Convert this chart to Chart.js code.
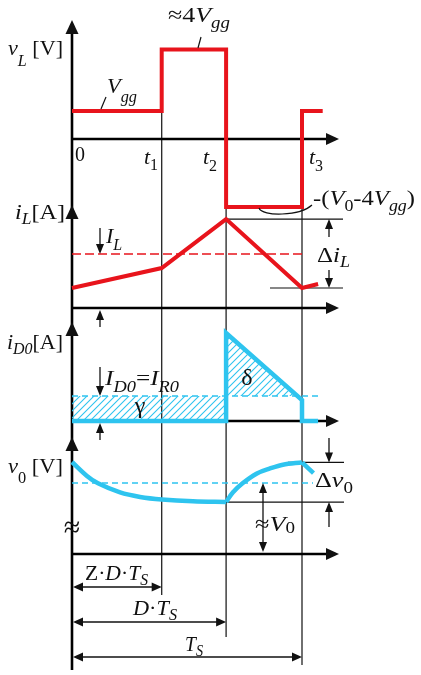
<!DOCTYPE html>
<html><head><meta charset="utf-8">
<script src="https://cdn.jsdelivr.net/npm/chart.js@4.4.1/dist/chart.umd.min.js"></script>
<style>html,body{margin:0;padding:0;background:#fff;overflow:hidden}#wrap{position:relative;width:421px;height:675px}</style>
</head><body><div id="wrap"><canvas id="c"></canvas></div>
<script>
// ---- data (time in fractions of Ts) ----
const switchTimes = [0, 0.39, 0.67, 1.0];           // 0, t1, t2, t3
const tickLabels  = ['0', 't1', 't2', 't3'];
// inductor voltage vL, in units of Vgg
const vLTime  = [0, 0.39, 0.39, 0.67, 0.67, 1.0, 1.0, 1.09];
const vLValue = [1, 1, 3.2, 3.2, -2.43, -2.43, 1, 1];
// inductor current iL
const iLTime  = [0, 0.39, 0.67, 1.0, 1.07];
const iLValue = [1.11, 2.22, 4.94, 1.11, 1.33];
const iLMeanTime = [0, 1.013];
const iLMean     = [3.0, 3.0];
// diode current iD0
const iDTime  = [0, 0.67, 0.67, 1.0, 1.0, 1.07];
const iDValue = [0, 0, 3.52, 0.84, 0, 0];
const iRMeanTime = [0, 1.078];
const iRMean     = [1, 1];
// output voltage v0 (units of V0)
const v0DecayTime  = [0, 0.065, 0.113, 0.209, 0.296, 0.391, 0.526, 0.67];
const v0DecayValue = [1.296, 1.10, 0.995, 0.867, 0.804, 0.768, 0.742, 0.732];
const v0RiseTime   = [0.67, 0.70, 0.743, 0.804, 0.861, 0.917, 1.0];
const v0RiseValue  = [0.732, 0.87, 1.0, 1.135, 1.205, 1.258, 1.29];
const v0TailTime   = [1.0, 1.05];
const v0TailValue  = [1.29, 1.14];
const v0MeanTime   = [0, 1.048];
const v0Mean       = [1, 1];

// ---- styling / layout ----
const RED = '#e8141c', CYAN = '#2ec4ef', INK = '#111';
const W = 421, H = 675;
const SERIF = '"Liberation Serif","Times New Roman",serif';
const xr = (origin, ppu) => ({min: -origin/ppu, max: (W-origin)/ppu});
const yr = (zero, ppu) => ({min: -(H-zero)/ppu, max: zero/ppu});
const pts = (ts, vs) => ts.map((t,i)=>({x:t, y:vs[i]}));

const hatch = (()=>{
  const c = document.createElement('canvas'); c.width = 7; c.height = 7;
  const g = c.getContext('2d'); g.strokeStyle = CYAN; g.lineWidth = 1.1;
  g.beginPath(); g.moveTo(0,7); g.lineTo(7,0); g.moveTo(-1,1); g.lineTo(1,-1); g.moveTo(6,8); g.lineTo(8,6); g.stroke();
  return g.createPattern(c, 'repeat');
})();

const line = (ctx,x1,y1,x2,y2,w,col)=>{ctx.save();ctx.strokeStyle=col||INK;ctx.lineWidth=w;ctx.beginPath();ctx.moveTo(x1,y1);ctx.lineTo(x2,y2);ctx.stroke();ctx.restore();};
const head = (ctx,x,y,dx,dy,len,hw)=>{ctx.save();ctx.fillStyle=INK;ctx.beginPath();ctx.moveTo(x,y);
  ctx.lineTo(x-dx*len-dy*hw, y-dy*len+dx*hw); ctx.lineTo(x-dx*len+dy*hw, y-dy*len-dx*hw); ctx.closePath(); ctx.fill(); ctx.restore();};
const varrow = (ctx,x,y0,tip)=>{const d = tip>y0?1:-1; line(ctx,x,y0,x,tip-d*8,1.3); head(ctx,x,tip,0,d,10,4);};
const hdim = (ctx,x0,x1,y)=>{line(ctx,x0+6,y,x1-6,y,1.3); head(ctx,x0,y,-1,0,10,4.5); head(ctx,x1,y,1,0,10,4.5);};

function rich(ctx, it){
  const size = it.size||22, sub = it.sub||16, so = it.so==null?6:it.so;
  const font = fl => (fl.includes('i')?'italic ':'') + (fl.includes('s')?sub:size) + 'px ' + SERIF;
  let nat = 0;
  for (const [t,fl] of it.s){ ctx.font = font(fl); nat += ctx.measureText(t).width; }
  ctx.save(); ctx.fillStyle = INK; ctx.textBaseline = 'alphabetic'; ctx.textAlign = 'left';
  let x0 = it.x; if (it.c) x0 = it.x - nat/2;
  ctx.translate(x0, it.y);
  if (it.w) ctx.scale(it.w/nat, 1);
  let x = 0;
  for (const [t,fl] of it.s){ ctx.font = font(fl); ctx.fillText(t, x, fl.includes('s')?so:0); x += ctx.measureText(t).width; }
  ctx.restore();
}

const texts = [
  {x:8, y:55, w:55, so:11, s:[['v','i'],['L','is'],[' [V]','']]},
  {x:168, y:22, w:62, so:6, s:[['≈4',''],['V','i'],['gg','is']]},
  {x:107, y:93, w:30, so:9, s:[['V','i'],['gg','is']]},
  {x:75, y:161, size:20, s:[[tickLabels[0],'']]},
  {x:144, y:164, so:6, s:[['t','i'],[tickLabels[1].slice(1),'s']]},
  {x:203, y:164, so:7, s:[['t','i'],[tickLabels[2].slice(1),'s']]},
  {x:309, y:164, so:7, s:[['t','i'],[tickLabels[3].slice(1),'s']]},
  {x:313, y:205, w:102, so:6, s:[['-(',''],['V','i'],['0','s'],['-4',''],['V','i'],['gg','is'],[')','']]},
  {x:15, y:219, w:50, so:5, s:[['i','i'],['L','is'],['[A]','']]},
  {x:106, y:243, so:7, s:[['I','i'],['L','is']]},
  {x:317, y:262, w:33, so:5, s:[['Δ',''],['i','i'],['L','is']]},
  {x:7, y:349, w:56, so:5, s:[['i','i'],['D0','is'],['[A]','']]},
  {x:105, y:385, w:74, so:7, s:[['I','i'],['D0','is'],['=',''],['I','i'],['R0','is']]},
  {x:140, y:413, c:true, size:24, s:[['γ','']]},
  {x:247, y:385, c:true, size:24, s:[['δ','']]},
  {x:8, y:473, w:55, so:10, s:[['v','i'],['0','s'],[' [V]','']]},
  {x:315, y:487, w:38, so:6, s:[['Δ',''],['v','i'],['0','s']]},
  {x:255, y:531, w:40, so:2, s:[['≈',''],['V','i'],['0','s']]},
  {x:85, y:580, w:63, so:5, s:[['Z·',''],['D','i'],['·',''],['T','i'],['S','is']]},
  {x:133, y:615, w:44, so:5, s:[['D','i'],['·',''],['T','i'],['S','is']]},
  {x:185, y:651, w:18, so:5, s:[['T','i'],['S','is']]},
];

const overlay = {
  id: 'overlay',
  beforeDatasetsDraw(chart){
    const ctx = chart.ctx, sx = chart.scales.x;
    const X = v => sx.getPixelForValue(v);
    const Y = (id,v) => chart.scales[id].getPixelForValue(v);
    const x0 = X(0), x1 = X(switchTimes[1]), x2 = X(switchTimes[2]), x3 = X(switchTimes[3]);
    // guide lines
    line(ctx, x1, Y('yVL',1), x1, 595, 1.3, '#222');
    line(ctx, x2, 108, x2, 637, 1.3, '#222');
    line(ctx, x3, 128, x3, 665, 1.3, '#222');
    // reference lines
    line(ctx, x2, Y('yIL', iLValue[2]), 343, Y('yIL', iLValue[2]), 1.2);
    line(ctx, 270, Y('yIL', iLValue[3]), 343, Y('yIL', iLValue[3]), 1.2);
    line(ctx, 288, Y('yV0', v0RiseValue[6]), 344, Y('yV0', v0RiseValue[6]), 1.2);
    line(ctx, x2, Y('yV0', v0DecayValue[7]), 344, Y('yV0', v0DecayValue[7]), 1.2);
    // vertical axis
    line(ctx, x0, 24, x0, 670, 2.6, '#000');
    for (const tip of [20, 205, 322, 437]) head(ctx, x0, tip, 0, -1, 14, 6.5);
    // time axes
    for (const id of ['yVL','yIL','yID','yV0']){
      const y = Y(id, 0);
      line(ctx, x0, y, 330, y, 2.6, '#000');
      head(ctx, 339, y, 1, 0, 13, 6);
    }
    // dimension arrows
    hdim(ctx, x0+1, x1, 587);
    hdim(ctx, x0+1, x2, 622);
    hdim(ctx, x0+1, x3, 657);
  },
  afterDatasetsDraw(chart){
    const ctx = chart.ctx;
    const Y = (id,v) => chart.scales[id].getPixelForValue(v);
    // leaders
    line(ctx, 106, 97, 101, 109, 1.2);
    line(ctx, 201, 37, 198, 48, 1.2);
    ctx.save(); ctx.strokeStyle = INK; ctx.lineWidth = 1.2; ctx.beginPath();
    ctx.moveTo(259, 208); ctx.bezierCurveTo(262, 217, 300, 216, 312, 205); ctx.stroke(); ctx.restore();
    // I_L arrows
    varrow(ctx, 100, 228, Y('yIL', iLMean[0]));
    varrow(ctx, 100, 327, Y('yIL', 0)+2);
    // delta iL
    varrow(ctx, 329, 237, Y('yIL', iLValue[2]));
    varrow(ctx, 329, 270, Y('yIL', iLValue[3]));
    // I_D0 arrows
    varrow(ctx, 100, 367, Y('yID', iRMean[0]));
    varrow(ctx, 100, 440, Y('yID', 0)+2);
    // delta v0
    varrow(ctx, 329, 438, Y('yV0', v0RiseValue[6]));
    varrow(ctx, 329, 527, Y('yV0', v0DecayValue[7]));
    // ~V0 double arrow
    const ym = Y('yV0', v0Mean[0]), ya = Y('yV0', 0);
    line(ctx, 263, ym+8, 263, ya-8, 1.3); head(ctx, 263, ym, 0, -1, 10, 4); head(ctx, 263, ya-2, 0, 1, 10, 4);
    // broken-axis mark
    rich(ctx, {x:72, y:537, c:true, size:30, s:[['≈','']]});
    for (const t of texts) rich(ctx, t);
  }
};

const smooth = {cubicInterpolationMode:'default', tension:0.35};
const datasets = [
  {data: pts(vLTime, vLValue), yAxisID:'yVL', borderColor:RED, borderWidth:4, order:1},
  {data: pts(iLMeanTime, iLMean), yAxisID:'yIL', borderColor:RED, borderWidth:1.3, borderDash:[9,4], order:3},
  {data: pts(iLTime, iLValue), yAxisID:'yIL', borderColor:RED, borderWidth:4, order:1},
  {data: pts([switchTimes[0], switchTimes[2]], [iRMean[0], iRMean[0]]), yAxisID:'yID', borderColor:'rgba(0,0,0,0)', borderWidth:1, fill:{target:{value:0}}, backgroundColor:hatch, order:5},
  {data: pts(iDTime.slice(2,4), iDValue.slice(2,4)), yAxisID:'yID', borderColor:'rgba(0,0,0,0)', borderWidth:1, fill:{target:{value:iRMean[0]}, above:hatch, below:'rgba(0,0,0,0)'}, order:5},
  {data: pts(iRMeanTime, iRMean), yAxisID:'yID', borderColor:CYAN, borderWidth:1.3, borderDash:[6,4], order:3},
  {data: pts(iDTime, iDValue), yAxisID:'yID', borderColor:CYAN, borderWidth:4.5, order:1},
  {data: pts(v0MeanTime, v0Mean), yAxisID:'yV0', borderColor:CYAN, borderWidth:1.3, borderDash:[6,4], order:3},
  {data: pts(v0DecayTime, v0DecayValue), yAxisID:'yV0', borderColor:CYAN, borderWidth:4.5, ...smooth, order:1},
  {data: pts(v0RiseTime, v0RiseValue), yAxisID:'yV0', borderColor:CYAN, borderWidth:4.5, ...smooth, order:1},
  {data: pts(v0TailTime, v0TailValue), yAxisID:'yV0', borderColor:CYAN, borderWidth:4.5, order:1},
];

new Chart(document.getElementById('c'), {
  type: 'line',
  data: { datasets },
  options: {
    responsive: true, maintainAspectRatio: false, animation: false, events: [],
    layout: { padding: 0 },
    plugins: { legend: {display:false}, tooltip: {enabled:false}, title:{display:false} },
    elements: { point: {radius:0}, line: {tension:0, borderCapStyle:'butt', borderJoinStyle:'miter', fill:false} },
    scales: {
      x:   {type:'linear', display:false, ...xr(72, 230)},
      yVL: {type:'linear', display:false, ...yr(139, 28)},
      yIL: {type:'linear', display:false, ...yr(308, 18)},
      yID: {type:'linear', display:false, ...yr(421, 25)},
      yV0: {type:'linear', display:false, ...yr(554, 71)}
    }
  },
  plugins: [overlay]
});
</script></body></html>
